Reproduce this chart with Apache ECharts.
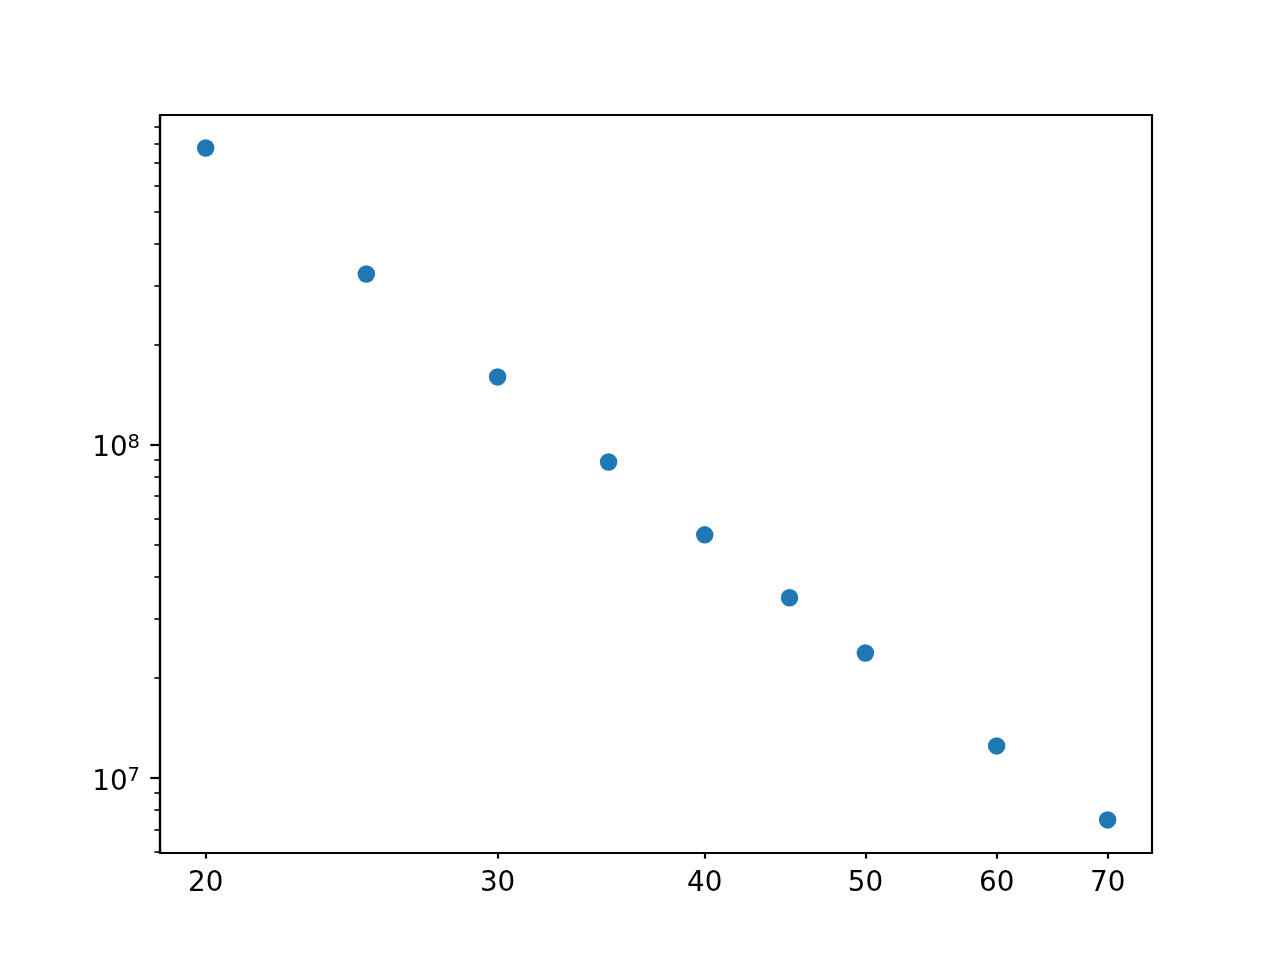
<!DOCTYPE html>
<html>
<head>
<meta charset="utf-8">
<script src="https://cdn.jsdelivr.net/npm/echarts@6/dist/echarts.min.js"></script>
<style>html,body{margin:0;padding:0;background:#fff}#c{width:1280px;height:960px}</style>
</head>
<body>
<div id="c"></div>
<script>
const xValues = [20, 25, 30, 35, 40, 45, 50, 60, 70];
const yValues = [7.76e8, 3.25e8, 1.596e8, 8.87e7, 5.36e7, 3.47e7, 2.37e7, 1.247e7, 7.48e6];
const xTickValues = [20, 30, 40, 50, 60, 70];
const yMajorTicks = [1e7, 1e8];
const yMinorTicks = [6e6, 7e6, 8e6, 9e6, 2e7, 3e7, 4e7, 5e7, 6e7, 7e7, 8e7, 9e7, 2e8, 3e8, 4e8, 5e8, 6e8, 7e8, 8e8, 9e8];
const xRange = [18.77, 74.45];
const yRange = [5.95e6, 9.75e8];

const FONT = 'DejaVu Sans';
const chart = echarts.init(document.getElementById('c'), null, {renderer: 'canvas'});
const points = xValues.map((x, i) => [x, yValues[i]]);
chart.setOption({
  animation: false,
  backgroundColor: '#fff',
  grid: {left: 160, right: 128, top: 115, bottom: 107, show: true, borderColor: '#000', borderWidth: 2.2, backgroundColor: 'transparent'},
  xAxis: {
    type: 'log', logBase: 10, min: xRange[0], max: xRange[1],
    axisLine: {show: true, onZero: false, lineStyle: {color: '#000', width: 2.2}},
    axisTick: {show: true, length: 5.6, lineStyle: {color: '#000', width: 2.2}, customValues: xTickValues},
    axisLabel: {show: true, customValues: xTickValues, color: '#000', fontFamily: FONT, fontSize: 27.8, margin: 17,
      formatter: v => String(Math.round(v))},
    splitLine: {show: false}, minorTick: {show: false}
  },
  yAxis: [{
    type: 'log', logBase: 10, min: yRange[0], max: yRange[1],
    axisLine: {show: true, onZero: false, lineStyle: {color: '#000', width: 2.2}},
    axisTick: {show: true, length: 9.7, lineStyle: {color: '#000', width: 2.2}, customValues: yMajorTicks},
    axisLabel: {show: true, customValues: yMajorTicks, color: '#000', fontFamily: FONT, fontSize: 27.8, margin: 20,
      padding: [7, 0, 0, 0],
      formatter: v => '{b|10}{s|' + Math.round(Math.log10(v)) + '}',
      rich: {
        b: {fontFamily: FONT, fontSize: 27.8, color: '#000', lineHeight: 30, verticalAlign: 'bottom'},
        s: {fontFamily: FONT, fontSize: 19.5, color: '#000', lineHeight: 30, verticalAlign: 'top', padding: [0, 0, 10, 0]}
      }},
    splitLine: {show: false}
  }, {
    type: 'log', logBase: 10, min: yRange[0], max: yRange[1], position: 'left', offset: 0,
    axisLine: {show: false},
    axisTick: {show: true, length: 5.6, lineStyle: {color: '#000', width: 1.6}, customValues: yMinorTicks},
    axisLabel: {show: false},
    splitLine: {show: false}
  }],
  series: [{
    type: 'scatter', xAxisIndex: 0, yAxisIndex: 0, data: points,
    symbol: 'circle', symbolSize: 17.5,
    itemStyle: {color: '#1f77b4', opacity: 1}
  }]
});
</script>
</body>
</html>
